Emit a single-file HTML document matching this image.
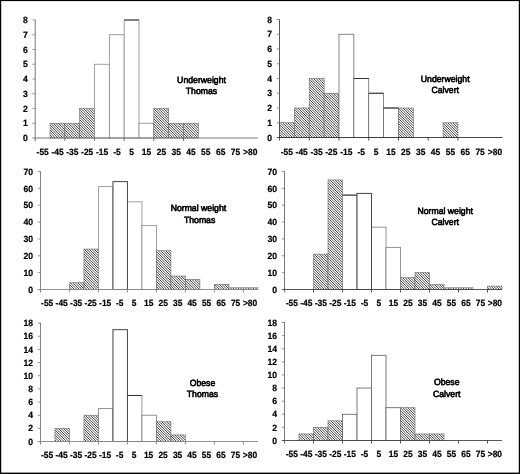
<!DOCTYPE html>
<html><head><meta charset="utf-8"><title>Histograms</title>
<style>
html,body{margin:0;padding:0;background:#fff}
svg{display:block;text-rendering:geometricPrecision}
.yl{font:bold 9px "Liberation Sans",Arial,sans-serif;text-anchor:end;fill:#000;stroke:#000;stroke-width:.2px}
.xl{font:bold 9px "Liberation Sans",Arial,sans-serif;text-anchor:middle;fill:#000;stroke:#000;stroke-width:.2px}
.tt{font:9px "Liberation Sans",Arial,sans-serif;text-anchor:middle;fill:#000;stroke:#000;stroke-width:.6px}
</style></head><body>
<svg width="520" height="474" viewBox="0 0 520 474">
<defs><pattern id="h" width="5" height="5" patternUnits="userSpaceOnUse"><rect width="5" height="5" fill="#fff"/><path d="M-10.00,-2.50L0.00,7.50M-7.50,-2.50L2.50,7.50M-5.00,-2.50L5.00,7.50M-2.50,-2.50L7.50,7.50M0.00,-2.50L10.00,7.50M2.50,-2.50L12.50,7.50" stroke="#1a1a1a" stroke-width=".78" fill="none"/></pattern></defs>
<rect x="0" y="0" width="520" height="474" fill="#fff"/>
<rect x="0" y="0" width="520" height="1.1" fill="#000"/><rect x="0" y="0" width="1.2" height="474" fill="#000"/><rect x="518.8" y="0" width="1.2" height="474" fill="#000"/><rect x="0" y="472.6" width="520" height="1.4" fill="#000"/>
<g>
<rect x="50.03" y="123.25" width="14.83" height="14.75" fill="url(#h)" stroke="#666" stroke-width=".6"/>
<rect x="64.86" y="123.25" width="14.83" height="14.75" fill="url(#h)" stroke="#666" stroke-width=".6"/>
<rect x="79.69" y="108.50" width="14.83" height="29.50" fill="url(#h)" stroke="#666" stroke-width=".6"/>
<rect x="94.52" y="64.25" width="14.83" height="73.75" fill="#fff" stroke="#8a8a8a" stroke-width=".8"/>
<rect x="109.35" y="34.75" width="14.83" height="103.25" fill="#fff" stroke="#8a8a8a" stroke-width=".8"/>
<rect x="124.18" y="20.00" width="14.83" height="118.00" fill="#fff" stroke="#8a8a8a" stroke-width=".8"/>
<rect x="139.01" y="123.25" width="14.83" height="14.75" fill="#fff" stroke="#8a8a8a" stroke-width=".8"/>
<rect x="153.84" y="108.50" width="14.83" height="29.50" fill="url(#h)" stroke="#666" stroke-width=".6"/>
<rect x="168.67" y="123.25" width="14.83" height="14.75" fill="url(#h)" stroke="#666" stroke-width=".6"/>
<rect x="183.50" y="123.25" width="14.83" height="14.75" fill="url(#h)" stroke="#666" stroke-width=".6"/>
<path d="M124.18,20.00h14.83" stroke="#333" stroke-width="1" fill="none"/>
<path d="M35.20,19.60V141.00" fill="none" stroke="#6a6a6a" stroke-width=".9"/>
<path d="M32.50,138.00H257.65" fill="none" stroke="#6a6a6a" stroke-width=".9"/>
<path d="M32.50,123.25H35.20M32.50,108.50H35.20M32.50,93.75H35.20M32.50,79.00H35.20M32.50,64.25H35.20M32.50,49.50H35.20M32.50,34.75H35.20M32.50,20.00H35.20" fill="none" stroke="#888" stroke-width=".9"/>
<path d="M64.86,138.00v3M94.52,138.00v3M124.18,138.00v3M153.84,138.00v3M183.50,138.00v3" fill="none" stroke="#6a6a6a" stroke-width=".9"/>
<text class="yl" transform="translate(27.8,141.1) scale(.96,1)">0</text><text class="yl" transform="translate(27.8,126.3) scale(.96,1)">1</text><text class="yl" transform="translate(27.8,111.6) scale(.96,1)">2</text><text class="yl" transform="translate(27.8,96.8) scale(.96,1)">3</text><text class="yl" transform="translate(27.8,82.1) scale(.96,1)">4</text><text class="yl" transform="translate(27.8,67.3) scale(.96,1)">5</text><text class="yl" transform="translate(27.8,52.6) scale(.96,1)">6</text><text class="yl" transform="translate(27.8,37.9) scale(.96,1)">7</text><text class="yl" transform="translate(27.8,23.1) scale(.96,1)">8</text>
<text class="xl" transform="translate(42.7,155.0) scale(.94,1)">-55</text><text class="xl" transform="translate(57.5,155.0) scale(.94,1)">-45</text><text class="xl" transform="translate(72.4,155.0) scale(.94,1)">-35</text><text class="xl" transform="translate(87.2,155.0) scale(.94,1)">-25</text><text class="xl" transform="translate(102.0,155.0) scale(.94,1)">-15</text><text class="xl" transform="translate(116.9,155.0) scale(.94,1)">-5</text><text class="xl" transform="translate(131.7,155.0) scale(.94,1)">5</text><text class="xl" transform="translate(146.5,155.0) scale(.94,1)">15</text><text class="xl" transform="translate(161.4,155.0) scale(.94,1)">25</text><text class="xl" transform="translate(176.2,155.0) scale(.94,1)">35</text><text class="xl" transform="translate(191.0,155.0) scale(.94,1)">45</text><text class="xl" transform="translate(205.8,155.0) scale(.94,1)">55</text><text class="xl" transform="translate(220.7,155.0) scale(.94,1)">65</text><text class="xl" transform="translate(235.5,155.0) scale(.94,1)">75</text><text class="xl" transform="translate(250.3,155.0) scale(.94,1)">&gt;80</text>
<text class="tt" transform="translate(201.5,82.8) scale(.965,1)">Underweight</text><text class="tt" transform="translate(201.5,93.6) scale(.965,1)">Thomas</text>
</g>
<g>
<rect x="279.50" y="122.75" width="14.87" height="14.75" fill="url(#h)" stroke="#666" stroke-width=".6"/>
<rect x="294.37" y="108.00" width="14.87" height="29.50" fill="url(#h)" stroke="#666" stroke-width=".6"/>
<rect x="309.24" y="78.50" width="14.87" height="59.00" fill="url(#h)" stroke="#666" stroke-width=".6"/>
<rect x="324.11" y="93.25" width="14.87" height="44.25" fill="url(#h)" stroke="#666" stroke-width=".6"/>
<rect x="338.98" y="34.25" width="14.87" height="103.25" fill="#fff" stroke="#6a6a6a" stroke-width=".8"/>
<rect x="353.85" y="78.50" width="14.87" height="59.00" fill="#fff" stroke="#6a6a6a" stroke-width=".8"/>
<rect x="368.72" y="93.25" width="14.87" height="44.25" fill="#fff" stroke="#6a6a6a" stroke-width=".8"/>
<rect x="383.59" y="108.00" width="14.87" height="29.50" fill="#fff" stroke="#6a6a6a" stroke-width=".8"/>
<rect x="398.46" y="108.00" width="14.87" height="29.50" fill="url(#h)" stroke="#666" stroke-width=".6"/>
<rect x="443.07" y="122.75" width="14.87" height="14.75" fill="url(#h)" stroke="#666" stroke-width=".6"/>
<path d="M353.85,78.50h14.87" stroke="#333" stroke-width="1" fill="none"/>
<path d="M368.72,93.25h14.87" stroke="#333" stroke-width="1" fill="none"/>
<path d="M383.59,108.00h14.87" stroke="#333" stroke-width="1" fill="none"/>
<path d="M279.50,19.10V140.50" fill="none" stroke="#444" stroke-width=".9"/>
<path d="M276.80,137.50H502.55" fill="none" stroke="#333" stroke-width=".9"/>
<path d="M276.80,122.75H279.50M276.80,108.00H279.50M276.80,93.25H279.50M276.80,78.50H279.50M276.80,63.75H279.50M276.80,49.00H279.50M276.80,34.25H279.50M276.80,19.50H279.50" fill="none" stroke="#888" stroke-width=".9"/>
<path d="M309.24,137.50v3M338.98,137.50v3M368.72,137.50v3M398.46,137.50v3M428.20,137.50v3M457.94,137.50v3" fill="none" stroke="#333" stroke-width=".9"/>
<text class="yl" transform="translate(272.1,140.6) scale(.96,1)">0</text><text class="yl" transform="translate(272.1,125.8) scale(.96,1)">1</text><text class="yl" transform="translate(272.1,111.1) scale(.96,1)">2</text><text class="yl" transform="translate(272.1,96.3) scale(.96,1)">3</text><text class="yl" transform="translate(272.1,81.6) scale(.96,1)">4</text><text class="yl" transform="translate(272.1,66.8) scale(.96,1)">5</text><text class="yl" transform="translate(272.1,52.1) scale(.96,1)">6</text><text class="yl" transform="translate(272.1,37.4) scale(.96,1)">7</text><text class="yl" transform="translate(272.1,22.6) scale(.96,1)">8</text>
<text class="xl" transform="translate(286.8,154.7) scale(.94,1)">-55</text><text class="xl" transform="translate(301.7,154.7) scale(.94,1)">-45</text><text class="xl" transform="translate(316.6,154.7) scale(.94,1)">-35</text><text class="xl" transform="translate(331.4,154.7) scale(.94,1)">-25</text><text class="xl" transform="translate(346.3,154.7) scale(.94,1)">-15</text><text class="xl" transform="translate(361.2,154.7) scale(.94,1)">-5</text><text class="xl" transform="translate(376.1,154.7) scale(.94,1)">5</text><text class="xl" transform="translate(390.9,154.7) scale(.94,1)">15</text><text class="xl" transform="translate(405.8,154.7) scale(.94,1)">25</text><text class="xl" transform="translate(420.7,154.7) scale(.94,1)">35</text><text class="xl" transform="translate(435.5,154.7) scale(.94,1)">45</text><text class="xl" transform="translate(450.4,154.7) scale(.94,1)">55</text><text class="xl" transform="translate(465.3,154.7) scale(.94,1)">65</text><text class="xl" transform="translate(480.1,154.7) scale(.94,1)">75</text><text class="xl" transform="translate(495.0,154.7) scale(.94,1)">&gt;80</text>
<text class="tt" transform="translate(445.2,82.3) scale(.965,1)">Underweight</text><text class="tt" transform="translate(445.2,93.1) scale(.965,1)">Calvert</text>
</g>
<g>
<rect x="69.48" y="282.76" width="14.49" height="6.74" fill="url(#h)" stroke="#666" stroke-width=".6"/>
<rect x="83.97" y="249.04" width="14.49" height="40.46" fill="url(#h)" stroke="#666" stroke-width=".6"/>
<rect x="98.46" y="186.67" width="14.49" height="102.83" fill="#fff" stroke="#8a8a8a" stroke-width=".8"/>
<rect x="127.44" y="201.84" width="14.49" height="87.66" fill="#fff" stroke="#8a8a8a" stroke-width=".8"/>
<rect x="141.93" y="225.44" width="14.49" height="64.06" fill="#fff" stroke="#8a8a8a" stroke-width=".8"/>
<rect x="156.42" y="250.73" width="14.49" height="38.77" fill="url(#h)" stroke="#666" stroke-width=".6"/>
<rect x="170.91" y="276.01" width="14.49" height="13.49" fill="url(#h)" stroke="#666" stroke-width=".6"/>
<rect x="185.40" y="279.39" width="14.49" height="10.11" fill="url(#h)" stroke="#666" stroke-width=".6"/>
<rect x="214.38" y="284.44" width="14.49" height="5.06" fill="url(#h)" stroke="#666" stroke-width=".6"/>
<rect x="228.87" y="287.81" width="14.49" height="1.69" fill="url(#h)" stroke="#666" stroke-width=".6"/>
<rect x="243.36" y="287.81" width="14.49" height="1.69" fill="url(#h)" stroke="#666" stroke-width=".6"/>
<rect x="112.95" y="181.61" width="14.49" height="107.89" fill="#fff" stroke="#444" stroke-width="1"/>
<path d="M40.50,171.10V292.50" fill="none" stroke="#777" stroke-width=".9"/>
<path d="M37.80,289.50H257.85" fill="none" stroke="#858585" stroke-width=".9"/>
<path d="M37.80,272.64H40.50M37.80,255.79H40.50M37.80,238.93H40.50M37.80,222.07H40.50M37.80,205.21H40.50M37.80,188.36H40.50M37.80,171.50H40.50" fill="none" stroke="#888" stroke-width=".9"/>
<path d="M69.48,289.50v3M98.46,289.50v3M127.44,289.50v3M156.42,289.50v3M185.40,289.50v3M214.38,289.50v3M243.36,289.50v3" fill="none" stroke="#858585" stroke-width=".9"/>
<text class="yl" transform="translate(33.1,292.6) scale(.96,1)">0</text><text class="yl" transform="translate(33.1,275.7) scale(.96,1)">10</text><text class="yl" transform="translate(33.1,258.9) scale(.96,1)">20</text><text class="yl" transform="translate(33.1,242.0) scale(.96,1)">30</text><text class="yl" transform="translate(33.1,225.2) scale(.96,1)">40</text><text class="yl" transform="translate(33.1,208.3) scale(.96,1)">50</text><text class="yl" transform="translate(33.1,191.5) scale(.96,1)">60</text><text class="yl" transform="translate(33.1,174.6) scale(.96,1)">70</text>
<text class="xl" transform="translate(47.2,306.1) scale(.94,1)">-55</text><text class="xl" transform="translate(61.7,306.1) scale(.94,1)">-45</text><text class="xl" transform="translate(76.2,306.1) scale(.94,1)">-35</text><text class="xl" transform="translate(90.7,306.1) scale(.94,1)">-25</text><text class="xl" transform="translate(105.2,306.1) scale(.94,1)">-15</text><text class="xl" transform="translate(119.7,306.1) scale(.94,1)">-5</text><text class="xl" transform="translate(134.2,306.1) scale(.94,1)">5</text><text class="xl" transform="translate(148.7,306.1) scale(.94,1)">15</text><text class="xl" transform="translate(163.2,306.1) scale(.94,1)">25</text><text class="xl" transform="translate(177.7,306.1) scale(.94,1)">35</text><text class="xl" transform="translate(192.1,306.1) scale(.94,1)">45</text><text class="xl" transform="translate(206.6,306.1) scale(.94,1)">55</text><text class="xl" transform="translate(221.1,306.1) scale(.94,1)">65</text><text class="xl" transform="translate(235.6,306.1) scale(.94,1)">75</text><text class="xl" transform="translate(250.1,306.1) scale(.94,1)">&gt;80</text>
<text class="tt" transform="translate(198.4,210.8) scale(.965,1)">Normal weight</text><text class="tt" transform="translate(199.6,222.6) scale(.965,1)">Thomas</text>
</g>
<g>
<rect x="313.50" y="254.10" width="14.50" height="35.40" fill="url(#h)" stroke="#666" stroke-width=".6"/>
<rect x="328.00" y="179.93" width="14.50" height="109.57" fill="url(#h)" stroke="#666" stroke-width=".6"/>
<rect x="342.50" y="195.10" width="14.50" height="94.40" fill="#fff" stroke="#7a7a7a" stroke-width=".8"/>
<rect x="371.50" y="227.13" width="14.50" height="62.37" fill="#fff" stroke="#7a7a7a" stroke-width=".8"/>
<rect x="386.00" y="247.36" width="14.50" height="42.14" fill="#fff" stroke="#7a7a7a" stroke-width=".8"/>
<rect x="400.50" y="277.70" width="14.50" height="11.80" fill="url(#h)" stroke="#666" stroke-width=".6"/>
<rect x="415.00" y="272.64" width="14.50" height="16.86" fill="url(#h)" stroke="#666" stroke-width=".6"/>
<rect x="429.50" y="284.44" width="14.50" height="5.06" fill="url(#h)" stroke="#666" stroke-width=".6"/>
<rect x="444.00" y="287.81" width="14.50" height="1.69" fill="url(#h)" stroke="#666" stroke-width=".6"/>
<rect x="458.50" y="287.81" width="14.50" height="1.69" fill="url(#h)" stroke="#666" stroke-width=".6"/>
<rect x="487.50" y="286.13" width="14.50" height="3.37" fill="url(#h)" stroke="#666" stroke-width=".6"/>
<path d="M342.50,195.10h14.50" stroke="#333" stroke-width="1" fill="none"/>
<rect x="357.00" y="193.41" width="14.50" height="96.09" fill="#fff" stroke="#444" stroke-width="1"/>
<path d="M284.50,171.10V292.50" fill="none" stroke="#666" stroke-width=".9"/>
<path d="M281.80,289.50H502.00" fill="none" stroke="#444" stroke-width=".9"/>
<path d="M281.80,272.64H284.50M281.80,255.79H284.50M281.80,238.93H284.50M281.80,222.07H284.50M281.80,205.21H284.50M281.80,188.36H284.50M281.80,171.50H284.50" fill="none" stroke="#888" stroke-width=".9"/>
<path d="M313.50,289.50v3M342.50,289.50v3M371.50,289.50v3M400.50,289.50v3M429.50,289.50v3M458.50,289.50v3M487.50,289.50v3" fill="none" stroke="#444" stroke-width=".9"/>
<text class="yl" transform="translate(277.1,292.6) scale(.96,1)">0</text><text class="yl" transform="translate(277.1,275.7) scale(.96,1)">10</text><text class="yl" transform="translate(277.1,258.9) scale(.96,1)">20</text><text class="yl" transform="translate(277.1,242.0) scale(.96,1)">30</text><text class="yl" transform="translate(277.1,225.2) scale(.96,1)">40</text><text class="yl" transform="translate(277.1,208.3) scale(.96,1)">50</text><text class="yl" transform="translate(277.1,191.5) scale(.96,1)">60</text><text class="yl" transform="translate(277.1,174.6) scale(.96,1)">70</text>
<text class="xl" transform="translate(291.9,306.3) scale(.94,1)">-55</text><text class="xl" transform="translate(306.4,306.3) scale(.94,1)">-45</text><text class="xl" transform="translate(320.9,306.3) scale(.94,1)">-35</text><text class="xl" transform="translate(335.4,306.3) scale(.94,1)">-25</text><text class="xl" transform="translate(349.9,306.3) scale(.94,1)">-15</text><text class="xl" transform="translate(364.4,306.3) scale(.94,1)">-5</text><text class="xl" transform="translate(378.9,306.3) scale(.94,1)">5</text><text class="xl" transform="translate(393.4,306.3) scale(.94,1)">15</text><text class="xl" transform="translate(407.9,306.3) scale(.94,1)">25</text><text class="xl" transform="translate(422.4,306.3) scale(.94,1)">35</text><text class="xl" transform="translate(436.9,306.3) scale(.94,1)">45</text><text class="xl" transform="translate(451.4,306.3) scale(.94,1)">55</text><text class="xl" transform="translate(465.9,306.3) scale(.94,1)">65</text><text class="xl" transform="translate(480.4,306.3) scale(.94,1)">75</text><text class="xl" transform="translate(494.9,306.3) scale(.94,1)">&gt;80</text>
<text class="tt" transform="translate(445.2,213.8) scale(.965,1)">Normal weight</text><text class="tt" transform="translate(445.2,224.6) scale(.965,1)">Calvert</text>
</g>
<g>
<rect x="54.99" y="428.34" width="14.49" height="13.16" fill="url(#h)" stroke="#666" stroke-width=".6"/>
<rect x="83.97" y="415.19" width="14.49" height="26.31" fill="url(#h)" stroke="#666" stroke-width=".6"/>
<rect x="98.46" y="408.61" width="14.49" height="32.89" fill="#fff" stroke="#7a7a7a" stroke-width=".8"/>
<rect x="127.44" y="395.46" width="14.49" height="46.04" fill="#fff" stroke="#7a7a7a" stroke-width=".8"/>
<rect x="141.93" y="415.19" width="14.49" height="26.31" fill="#fff" stroke="#7a7a7a" stroke-width=".8"/>
<rect x="156.42" y="421.77" width="14.49" height="19.73" fill="url(#h)" stroke="#666" stroke-width=".6"/>
<rect x="170.91" y="434.92" width="14.49" height="6.58" fill="url(#h)" stroke="#666" stroke-width=".6"/>
<rect x="112.95" y="329.68" width="14.49" height="111.82" fill="#fff" stroke="#444" stroke-width="1"/>
<path d="M127.44,395.46h14.49" stroke="#333" stroke-width="1" fill="none"/>
<path d="M40.50,322.70V444.50" fill="none" stroke="#777" stroke-width=".9"/>
<path d="M37.80,441.50H257.85" fill="none" stroke="#858585" stroke-width=".9"/>
<path d="M37.80,428.34H40.50M37.80,415.19H40.50M37.80,402.03H40.50M37.80,388.88H40.50M37.80,375.72H40.50M37.80,362.57H40.50M37.80,349.41H40.50M37.80,336.26H40.50M37.80,323.10H40.50" fill="none" stroke="#888" stroke-width=".9"/>
<path d="M69.48,441.50v3M98.46,441.50v3M127.44,441.50v3M156.42,441.50v3M185.40,441.50v3M214.38,441.50v3M243.36,441.50v3" fill="none" stroke="#858585" stroke-width=".9"/>
<text class="yl" transform="translate(33.1,444.6) scale(.96,1)">0</text><text class="yl" transform="translate(33.1,431.4) scale(.96,1)">2</text><text class="yl" transform="translate(33.1,418.3) scale(.96,1)">4</text><text class="yl" transform="translate(33.1,405.1) scale(.96,1)">6</text><text class="yl" transform="translate(33.1,392.0) scale(.96,1)">8</text><text class="yl" transform="translate(33.1,378.8) scale(.96,1)">10</text><text class="yl" transform="translate(33.1,365.7) scale(.96,1)">12</text><text class="yl" transform="translate(33.1,352.5) scale(.96,1)">14</text><text class="yl" transform="translate(33.1,339.4) scale(.96,1)">16</text><text class="yl" transform="translate(33.1,326.2) scale(.96,1)">18</text>
<text class="xl" transform="translate(47.1,458.0) scale(.94,1)">-55</text><text class="xl" transform="translate(61.6,458.0) scale(.94,1)">-45</text><text class="xl" transform="translate(76.1,458.0) scale(.94,1)">-35</text><text class="xl" transform="translate(90.6,458.0) scale(.94,1)">-25</text><text class="xl" transform="translate(105.1,458.0) scale(.94,1)">-15</text><text class="xl" transform="translate(119.6,458.0) scale(.94,1)">-5</text><text class="xl" transform="translate(134.1,458.0) scale(.94,1)">5</text><text class="xl" transform="translate(148.6,458.0) scale(.94,1)">15</text><text class="xl" transform="translate(163.1,458.0) scale(.94,1)">25</text><text class="xl" transform="translate(177.6,458.0) scale(.94,1)">35</text><text class="xl" transform="translate(192.0,458.0) scale(.94,1)">45</text><text class="xl" transform="translate(206.5,458.0) scale(.94,1)">55</text><text class="xl" transform="translate(221.0,458.0) scale(.94,1)">65</text><text class="xl" transform="translate(235.5,458.0) scale(.94,1)">75</text><text class="xl" transform="translate(250.0,458.0) scale(.94,1)">&gt;80</text>
<text class="tt" transform="translate(202.5,385.6) scale(.965,1)">Obese</text><text class="tt" transform="translate(202.5,396.8) scale(.965,1)">Thomas</text>
</g>
<g>
<rect x="299.00" y="433.94" width="14.50" height="6.56" fill="url(#h)" stroke="#666" stroke-width=".6"/>
<rect x="313.50" y="427.39" width="14.50" height="13.11" fill="url(#h)" stroke="#666" stroke-width=".6"/>
<rect x="328.00" y="420.83" width="14.50" height="19.67" fill="url(#h)" stroke="#666" stroke-width=".6"/>
<rect x="342.50" y="414.28" width="14.50" height="26.22" fill="#fff" stroke="#5a5a5a" stroke-width=".8"/>
<rect x="357.00" y="388.06" width="14.50" height="52.44" fill="#fff" stroke="#5a5a5a" stroke-width=".8"/>
<rect x="371.50" y="355.28" width="14.50" height="85.22" fill="#fff" stroke="#5a5a5a" stroke-width=".8"/>
<rect x="386.00" y="407.72" width="14.50" height="32.78" fill="#fff" stroke="#5a5a5a" stroke-width=".8"/>
<rect x="400.50" y="407.72" width="14.50" height="32.78" fill="url(#h)" stroke="#666" stroke-width=".6"/>
<rect x="415.00" y="433.94" width="14.50" height="6.56" fill="url(#h)" stroke="#666" stroke-width=".6"/>
<rect x="429.50" y="433.94" width="14.50" height="6.56" fill="url(#h)" stroke="#666" stroke-width=".6"/>
<path d="M284.50,322.10V443.50" fill="none" stroke="#666" stroke-width=".9"/>
<path d="M281.80,440.50H502.00" fill="none" stroke="#444" stroke-width=".9"/>
<path d="M281.80,427.39H284.50M281.80,414.28H284.50M281.80,401.17H284.50M281.80,388.06H284.50M281.80,374.94H284.50M281.80,361.83H284.50M281.80,348.72H284.50M281.80,335.61H284.50M281.80,322.50H284.50" fill="none" stroke="#888" stroke-width=".9"/>
<path d="M313.50,440.50v3M342.50,440.50v3M371.50,440.50v3M400.50,440.50v3M429.50,440.50v3M458.50,440.50v3M487.50,440.50v3" fill="none" stroke="#444" stroke-width=".9"/>
<text class="yl" transform="translate(277.1,443.6) scale(.96,1)">0</text><text class="yl" transform="translate(277.1,430.5) scale(.96,1)">2</text><text class="yl" transform="translate(277.1,417.4) scale(.96,1)">4</text><text class="yl" transform="translate(277.1,404.3) scale(.96,1)">6</text><text class="yl" transform="translate(277.1,391.2) scale(.96,1)">8</text><text class="yl" transform="translate(277.1,378.0) scale(.96,1)">10</text><text class="yl" transform="translate(277.1,364.9) scale(.96,1)">12</text><text class="yl" transform="translate(277.1,351.8) scale(.96,1)">14</text><text class="yl" transform="translate(277.1,338.7) scale(.96,1)">16</text><text class="yl" transform="translate(277.1,325.6) scale(.96,1)">18</text>
<text class="xl" transform="translate(291.9,457.4) scale(.94,1)">-55</text><text class="xl" transform="translate(306.4,457.4) scale(.94,1)">-45</text><text class="xl" transform="translate(320.9,457.4) scale(.94,1)">-35</text><text class="xl" transform="translate(335.4,457.4) scale(.94,1)">-25</text><text class="xl" transform="translate(349.9,457.4) scale(.94,1)">-15</text><text class="xl" transform="translate(364.4,457.4) scale(.94,1)">-5</text><text class="xl" transform="translate(378.9,457.4) scale(.94,1)">5</text><text class="xl" transform="translate(393.4,457.4) scale(.94,1)">15</text><text class="xl" transform="translate(407.9,457.4) scale(.94,1)">25</text><text class="xl" transform="translate(422.4,457.4) scale(.94,1)">35</text><text class="xl" transform="translate(436.9,457.4) scale(.94,1)">45</text><text class="xl" transform="translate(451.4,457.4) scale(.94,1)">55</text><text class="xl" transform="translate(465.9,457.4) scale(.94,1)">65</text><text class="xl" transform="translate(480.4,457.4) scale(.94,1)">75</text><text class="xl" transform="translate(494.9,457.4) scale(.94,1)">&gt;80</text>
<text class="tt" transform="translate(446.7,385.3) scale(.965,1)">Obese</text><text class="tt" transform="translate(446.7,396.5) scale(.965,1)">Calvert</text>
</g>
</svg>
</body></html>
